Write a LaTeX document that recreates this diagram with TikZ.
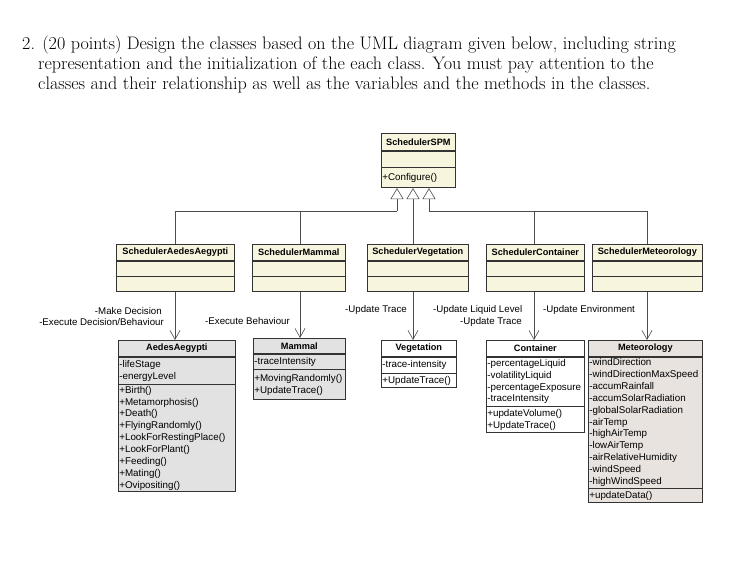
\documentclass[tikz,border=0pt]{standalone}
\usepackage{fontspec}
\newfontfamily\umlfont{Liberation Sans}
\usetikzlibrary{arrows.meta}
\definecolor{beige}{HTML}{F7F5DE}
\definecolor{lgray}{HTML}{E2E2E2}
\definecolor{mgray}{HTML}{E8E3DF}
\tikzset{
  x=1pt, y=-1pt,
  box/.style={draw=black!80, line width=0.7pt, anchor=north west, inner sep=1pt,
    font=\umlfont\fontsize{9.8}{11.9}\selectfont, align=left},
  ttl/.style={box, font=\umlfont\bfseries\fontsize{9.2}{10}\selectfont, align=center},
  lbl/.style={font=\umlfont\fontsize{9.7}{11}\selectfont, inner sep=0pt},
  conn/.style={draw=black!70, line width=0.6pt},
  inherit/.style={conn, -{Triangle[open, width=13pt, length=11pt]}},
  uses/.style={conn, -{Straight Barb[width=10pt, length=9pt]}},
}
\def\parseh#1,#2,#3\relax{\def\hA{#1}\def\hB{#2}\def\hC{#3}}
% \umlcls{name}{x,y}{w}{fill}{title}{attrs}{methods}{h1,h2,h3}
\newcommand{\umlcls}[8]{%
  \parseh#8\relax
  \node[ttl, fill=#4, minimum width=#3pt, minimum height=\hA pt, text width=#3pt-2pt] (#1-t) at (#2) {#5};
  \node[box, fill=#4, minimum width=#3pt, minimum height=\hB pt, text width=#3pt-2pt] (#1-a) at (#1-t.south west) {#6};
  \node[box, fill=#4, minimum width=#3pt, minimum height=\hC pt, text width=#3pt-2pt] (#1-m) at (#1-a.south west) {#7};
}
\begin{document}
\begin{tikzpicture}
\useasboundingbox (0,0) rectangle (733,560);
% header
\node[anchor=base west, inner sep=0pt, font=\fontsize{18.1}{20}\selectfont] (q1) at (22,49) {2. (20 points) Design the classes based on the UML diagram given below, including string};
\node[anchor=base west, inner sep=0pt, font=\fontsize{18.1}{20}\selectfont] (q2) at (38,69) {representation and the initialization of the each class. You must pay attention to the};
\node[anchor=base west, inner sep=0pt, font=\fontsize{18.1}{20}\selectfont] (q3) at (38,89) {classes and their relationship as well as the variables and the methods in the classes.};
% classes
\umlcls{spm}{381,133}{74}{beige}{SchedulerSPM}{}{+Configure()}{17,16,20}
\umlcls{sae}{116,244}{118}{beige}{SchedulerAedesAegypti}{}{}{16,15,15}
\umlcls{smm}{252,244}{93}{beige}{SchedulerMammal}{}{}{16,15,15}
\umlcls{sve}{367,244}{101}{beige}{SchedulerVegetation}{}{}{16,15,15}
\umlcls{sco}{486,244}{98}{beige}{SchedulerContainer}{}{}{16,15,15}
\umlcls{sme}{592,244}{110}{beige}{SchedulerMeteorology}{}{}{16,15,15}
\umlcls{aed}{118,340}{117}{lgray}{AedesAegypti}{-lifeStage\\-energyLevel}{+Birth()\\+Metamorphosis()\\+Death()\\+FlyingRandomly()\\+LookForRestingPlace()\\+LookForPlant()\\+Feeding()\\+Mating()\\+Ovipositing()}{16,27,107}
\umlcls{mam}{253,338}{92}{lgray}{Mammal}{-traceIntensity}{+MovingRandomly()\\+UpdateTrace()}{15,15,30}
\umlcls{veg}{381,340}{75}{white}{Vegetation}{-trace-intensity}{+UpdateTrace()}{16,16,14}
\umlcls{con}{486,340}{98}{white}{Container}{-percentageLiquid\\-volatilityLiquid\\-percentageExposure\\-traceIntensity}{+updateVolume()\\+UpdateTrace()}{16,49,26}
\umlcls{met}{588,340}{114}{mgray}{Meteorology}{-windDirection\\-windDirectionMaxSpeed\\-accumRainfall\\-accumSolarRadiation\\-globalSolarRadiation\\-airTemp\\-highAirTemp\\-lowAirTemp\\-airRelativeHumidity\\-windSpeed\\-highWindSpeed}{+updateData()}{16,131,14}
% inheritance tree
\coordinate (jl) at (397,211);
\coordinate (jr) at (429,211);
\coordinate (jv) at (413,211);
\draw[conn] (sae-t.north -| 175,0) |- (jl);
\draw[conn] (smm-t.north -| 300,0) -- (300,211);
\draw[inherit] (jl) -- (jl |- spm-m.south);
\draw[inherit] (sve-t.north -| jv) -- (spm-m.south -| jv);
\draw[conn] (sme-t.north -| 647,0) |- (jr);
\draw[conn] (sco-t.north -| 534,0) -- (534,211);
\draw[inherit] (jr) -- (jr |- spm-m.south);
% associations
\draw[uses] (sae-m.south -| 175,0) -- (aed-t.north -| 175,0);
\draw[uses] (smm-m.south -| 300,0) -- (mam-t.north -| 300,0);
\draw[uses] (sve-m.south -| jv) -- (veg-t.north -| jv);
\draw[uses] (sco-m.south -| 534,0) -- (con-t.north -| 534,0);
\draw[uses] (sme-m.south -| 647,0) -- (met-t.north -| 647,0);
% labels
\node[lbl, anchor=east] (l1) at (162,311) {-Make Decision};
\node[lbl, anchor=east] (l2) at (164,322) {-Execute Decision/Behaviour};
\node[lbl, anchor=west] (l3) at (205,321) {-Execute Behaviour};
\node[lbl, anchor=west] (l4) at (345,310) {-Update Trace};
\node[lbl, anchor=west] (l5) at (433,310) {-Update Liquid Level};
\node[lbl, anchor=east] (l6) at (522,322) {-Update Trace};
\node[lbl, anchor=west] (l7) at (543,310) {-Update Environment};
\end{tikzpicture}
\end{document}
